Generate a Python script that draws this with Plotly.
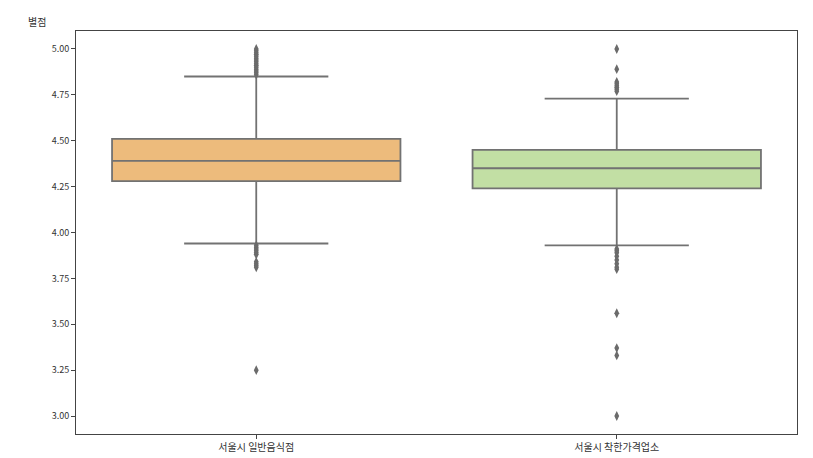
import plotly.graph_objects as go

categories = ["서울시 일반음식점", "서울시 착한가격업소"]
q1 = [4.28, 4.24]
median = [4.39, 4.35]
q3 = [4.51, 4.45]
lower_fence = [3.94, 3.93]
upper_fence = [4.85, 4.73]
fill_colors = ["#EDBB7C", "#C2DFA4"]

outliers = [
    [5.00, 4.99, 4.98, 4.97, 4.96, 4.95, 4.94, 4.93, 4.92, 4.91, 4.90, 4.89, 4.88, 4.87, 4.86,
     3.93, 3.92, 3.91, 3.90, 3.89, 3.88, 3.84, 3.83, 3.82, 3.81, 3.25],
    [5.00, 4.89, 4.82, 4.81, 4.80, 4.79, 4.78, 4.77,
     3.91, 3.90, 3.89, 3.87, 3.85, 3.83, 3.81, 3.80, 3.56, 3.37, 3.33, 3.00],
]

LINE = "#727272"
FONT = "Noto Sans CJK KR"

fig = go.Figure()
for i, cat in enumerate(categories):
    fig.add_trace(go.Box(
        x=[cat], q1=[q1[i]], median=[median[i]], q3=[q3[i]],
        lowerfence=[lower_fence[i]], upperfence=[upper_fence[i]],
        fillcolor=fill_colors[i], line=dict(color=LINE, width=1.8),
        boxpoints=False, width=0.8, whiskerwidth=0.5, showlegend=False,
    ))
    fig.add_trace(go.Scatter(
        x=[cat] * len(outliers[i]), y=outliers[i], mode="markers",
        marker=dict(symbol="diamond-tall", size=7, color="#6b6b6b"),
        showlegend=False,
    ))

fig.update_layout(
    width=813, height=458,
    margin=dict(l=68, r=24, t=23, b=30),
    plot_bgcolor="white", paper_bgcolor="white",
    font=dict(family=FONT, size=10, color="#333333"),
)
fig.update_xaxes(
    range=[-0.5, 1.5], showline=True, mirror=True, linecolor="#444444", linewidth=1,
    ticks="outside", ticklen=4, tickcolor="#444444", showgrid=False,
)
fig.update_yaxes(
    range=[2.902, 5.098], tickvals=[3.0, 3.25, 3.5, 3.75, 4.0, 4.25, 4.5, 4.75, 5.0],
    tickformat=".2f", showline=True, mirror=True, linecolor="#444444", linewidth=1,
    ticks="outside", ticklen=4, tickcolor="#444444", showgrid=False, zeroline=False,
    tickfont=dict(size=9),
)
fig.add_annotation(text="별점", xref="paper", yref="paper", x=-0.07, y=1.0,
                   xanchor="left", yanchor="bottom", showarrow=False, font=dict(size=10))

fig.write_html("out.html")
